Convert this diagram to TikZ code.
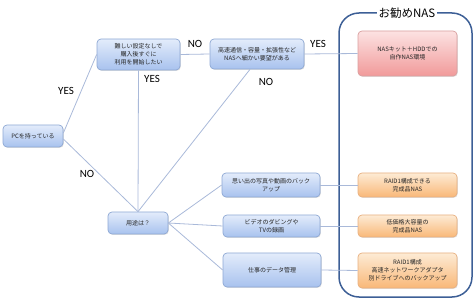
\documentclass[tikz,border=0pt]{standalone}
\usepackage{fontspec}
\setmainfont{Carlito}
\newfontfamily\jp{Noto Sans CJK JP}
\usetikzlibrary{shadows}
\definecolor{bluetop}{HTML}{E3ECFB}
\definecolor{bluebot}{HTML}{A8C2EE}
\definecolor{blueedge}{HTML}{8EA8D4}
\definecolor{pinktop}{HTML}{FCE2E2}
\definecolor{pinkbot}{HTML}{F19A9A}
\definecolor{pinkedge}{HTML}{D9A0A0}
\definecolor{orgtop}{HTML}{FDEBD5}
\definecolor{orgbot}{HTML}{F9B878}
\definecolor{orgedge}{HTML}{E8B080}
\definecolor{framecol}{HTML}{3D5F96}
\definecolor{linkcol}{HTML}{A9B9D9}
\tikzset{
  box/.style={rounded corners=4pt, line width=0.7pt, align=center, inner sep=1pt,
    font=\jp\fontsize{6}{8}\selectfont, text=black!85,
    drop shadow={opacity=0.25, shadow xshift=0.8pt, shadow yshift=-0.8pt}},
  bluebox/.style={box, draw=blueedge, top color=bluetop, bottom color=bluebot},
  pinkbox/.style={box, draw=pinkedge, top color=pinktop, bottom color=pinkbot},
  orgbox/.style={box, draw=orgedge, top color=orgtop, bottom color=orgbot},
  link/.style={draw=linkcol, line width=0.8pt},
  ans/.style={font=\fontsize{11}{12}\selectfont, text=black}
}
\begin{document}
\begin{tikzpicture}[x=1pt,y=-1pt]
\useasboundingbox (0,0) rectangle (474,299);
% frame
\draw[framecol, line width=1.5pt, rounded corners=20pt] (339,13) rectangle (472,297);
\node[fill=white, inner sep=2pt, font=\jp\fontsize{11.5}{12}\selectfont] (title) at (407,13) {お勧めNAS};
% boxes
\node[bluebox, minimum width=60pt, minimum height=22pt] (pc) at (33,136) {PCを持っている};
\node[bluebox, minimum width=83pt, minimum height=31pt] (q1) at (138.5,54.5) {難しい設定なしで\\購入後すぐに\\利用を開始したい};
\node[bluebox, minimum width=94pt, minimum height=30pt] (q2) at (257,54) {高速通信・容量・拡張性など\\NASへ細かい要望がある};
\node[pinkbox, minimum width=99pt, minimum height=45pt] (r1) at (407.5,53.5) {NASキット＋HDDでの\\自作NAS環境};
\node[bluebox, minimum width=60pt, minimum height=22pt] (use) at (138,223) {用途は？};
\node[bluebox, minimum width=98pt, minimum height=24pt] (u1) at (271,185) {思い出の写真や動画のバック\\アップ};
\node[bluebox, minimum width=97pt, minimum height=22pt] (u2) at (271.5,226) {ビデオのダビングや\\TVの録画};
\node[bluebox, minimum width=98pt, minimum height=34pt] (u3) at (272,270) {仕事のデータ管理};
\node[orgbox, minimum width=99pt, minimum height=24pt] (o1) at (407.5,185) {RAID1構成できる\\完成品NAS};
\node[orgbox, minimum width=99pt, minimum height=22pt] (o2) at (407.5,226) {低価格大容量の\\完成品NAS};
\node[orgbox, minimum width=99pt, minimum height=35pt] (o3) at (407.5,270.5) {RAID1構成\\高速ネットワークアダプタ\\別ドライブへのバックアップ};
% connectors
\begin{scope}[on background layer/.style={}]
\draw[link] ([yshift=3pt]pc.east) -- (q1.west);
\draw[link] ([yshift=-3pt]pc.east) -- (use.north);
\draw[link] (q1.south) -- (use.north);
\draw[link] ([xshift=-7pt]q2.south) -- (use.north);
\draw[link] (q1.east) -- (q2.west);
\draw[link] (q2.east) -- (r1.west);
\draw[link] (use.east) -- (u1.west);
\draw[link] (use.east) -- (u2.west);
\draw[link] (use.east) -- (u3.west);
\draw[link] (u1.east) -- (o1.west);
\draw[link] (u2.east) -- (o2.west);
\draw[link] (u3.east) -- (o3.west);
\end{scope}
% labels
\node[ans] (l1) at (66,91) {YES};
\node[ans] (l2) at (152,79) {YES};
\node[ans] (l3) at (195,44) {NO};
\node[ans] (l4) at (87,174) {NO};
\node[ans] (l5) at (318,44) {YES};
\node[ans] (l6) at (266,82) {NO};
\end{tikzpicture}
\end{document}
